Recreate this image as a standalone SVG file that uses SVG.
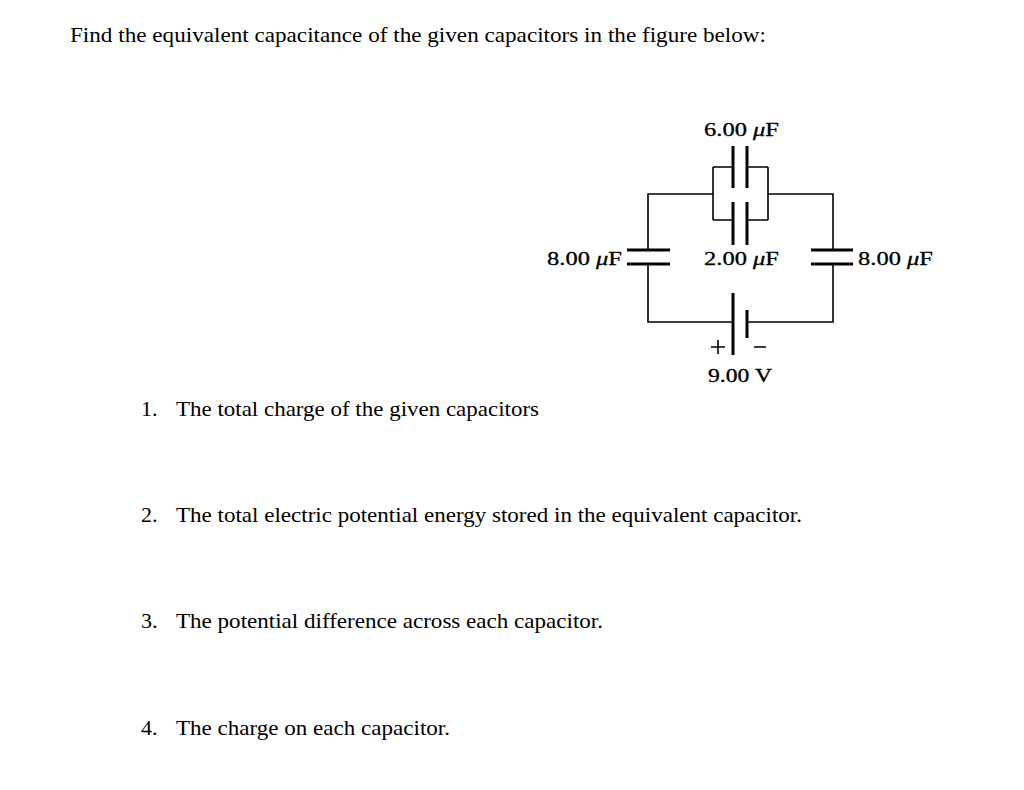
<svg xmlns="http://www.w3.org/2000/svg" width="1024" height="790" viewBox="0 0 1024 790">
<style>
.t{font-family:"Liberation Serif",serif;font-size:22px;fill:#000}
.l{font-family:"Liberation Serif",serif;font-size:19px;fill:#000;stroke:#000;stroke-width:0.3}
.w{stroke:#000;stroke-width:1.6;fill:none}
.p{stroke:#000;stroke-width:3;fill:none}
</style>
<rect width="1024" height="790" fill="#fff"/>
<text class="t" x="70" y="42" textLength="696" lengthAdjust="spacingAndGlyphs">Find the equivalent capacitance of the given capacitors in the figure below:</text>
<g id="questions">
<text class="t" x="141" y="416">1.</text><text class="t" x="176" y="416" textLength="363" lengthAdjust="spacingAndGlyphs">The total charge of the given capacitors</text>
<text class="t" x="141" y="522">2.</text><text class="t" x="176" y="522" textLength="626" lengthAdjust="spacingAndGlyphs">The total electric potential energy stored in the equivalent capacitor.</text>
<text class="t" x="141" y="628">3.</text><text class="t" x="176" y="628" textLength="427" lengthAdjust="spacingAndGlyphs">The potential difference across each capacitor.</text>
<text class="t" x="141" y="735">4.</text><text class="t" x="176" y="735" textLength="274" lengthAdjust="spacingAndGlyphs">The charge on each capacitor.</text>
</g>
<g id="connectors">
<path class="w" d="M648 250V194H713 M768 194H833V250 M648 264V322H733 M747 322H833V264 M713 167V220 M768 167V220 M713 167H733 M747 167H768 M713 220H733 M747 220H768"/>
</g>
<g id="c6">
<path class="p" d="M733 146V188 M747 146V188"/>
<text class="l" x="704" y="136" textLength="75" lengthAdjust="spacingAndGlyphs">6.00 <tspan font-style="italic">μ</tspan>F</text>
</g>
<g id="c2">
<path class="p" d="M733 202V245 M747 202V245"/>
<text class="l" x="704" y="265" textLength="75" lengthAdjust="spacingAndGlyphs">2.00 <tspan font-style="italic">μ</tspan>F</text>
</g>
<g id="c8l">
<path class="p" d="M627 250H670 M627 264H670"/>
<text class="l" x="547" y="265" textLength="75" lengthAdjust="spacingAndGlyphs">8.00 <tspan font-style="italic">μ</tspan>F</text>
</g>
<g id="c8r">
<path class="p" d="M811 250H853 M811 264H853"/>
<text class="l" x="858" y="265" textLength="75" lengthAdjust="spacingAndGlyphs">8.00 <tspan font-style="italic">μ</tspan>F</text>
</g>
<g id="battery">
<path class="p" d="M733 293V355 M747 310V338"/>
<path class="w" d="M711 347H725 M718 340V354 M754 347H766"/>
<text class="l" x="708" y="382" textLength="64" lengthAdjust="spacingAndGlyphs">9.00 V</text>
</g>
</svg>
